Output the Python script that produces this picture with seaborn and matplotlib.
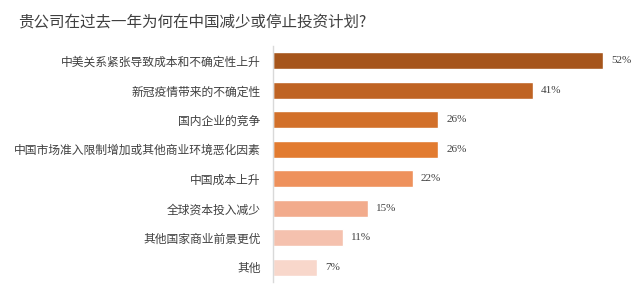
import pandas as pd
import matplotlib
matplotlib.use("Agg")
import matplotlib.pyplot as plt
import seaborn as sns

# 数据
reasons = ["中美关系紧张导致成本和不确定性上升", "新冠疫情带来的不确定性", "国内企业的竞争",
           "中国市场准入限制增加或其他商业环境恶化因素", "中国成本上升", "全球资本投入减少",
           "其他国家商业前景更优", "其他"]
shares = [52, 41, 26, 26, 22, 15, 11, 7]
colors = ["#A6551B", "#BF6323", "#D2702A", "#E27B30", "#EE915C", "#F2AB8C", "#F5C1AE", "#F8D7CB"]

df = pd.DataFrame({"reason": reasons, "share": shares})

sns.set_style("white")
plt.rcParams['font.family'] = ['Noto Sans CJK SC', 'DejaVu Sans']

fig = plt.figure(figsize=(6.37, 2.88), dpi=100)
ax = fig.add_axes([0.4286, 0.021, 0.5714, 0.819])

sns.barplot(ax=ax, data=df, x="share", y="reason", hue="reason",
            palette=colors, width=0.58, legend=False, saturation=1)

ax.set_xlim(0, 57.4)
ax.set_ylim(7.5, -0.5)
ax.set_xlabel("")
ax.set_ylabel("")
ax.set_xticks([])
for s in ["top", "right", "bottom"]:
    ax.spines[s].set_visible(False)
ax.spines["left"].set_color("#D9D9D9")
ax.spines["left"].set_linewidth(1)
ax.tick_params(axis="y", length=0, pad=9, labelsize=8.5, labelcolor="#404040")

for i, v in enumerate(shares):
    ax.text(v + 1.3, i, f"{v}%", va="center", ha="left", fontsize=8,
            family="Liberation Serif", color="#404040")

fig.text(0.028, 0.925, "贵公司在过去一年为何在中国减少或停止投资计划?", fontsize=11.2,
         color="#404040", va="center", ha="left")

fig.savefig("out.png", dpi=100)
